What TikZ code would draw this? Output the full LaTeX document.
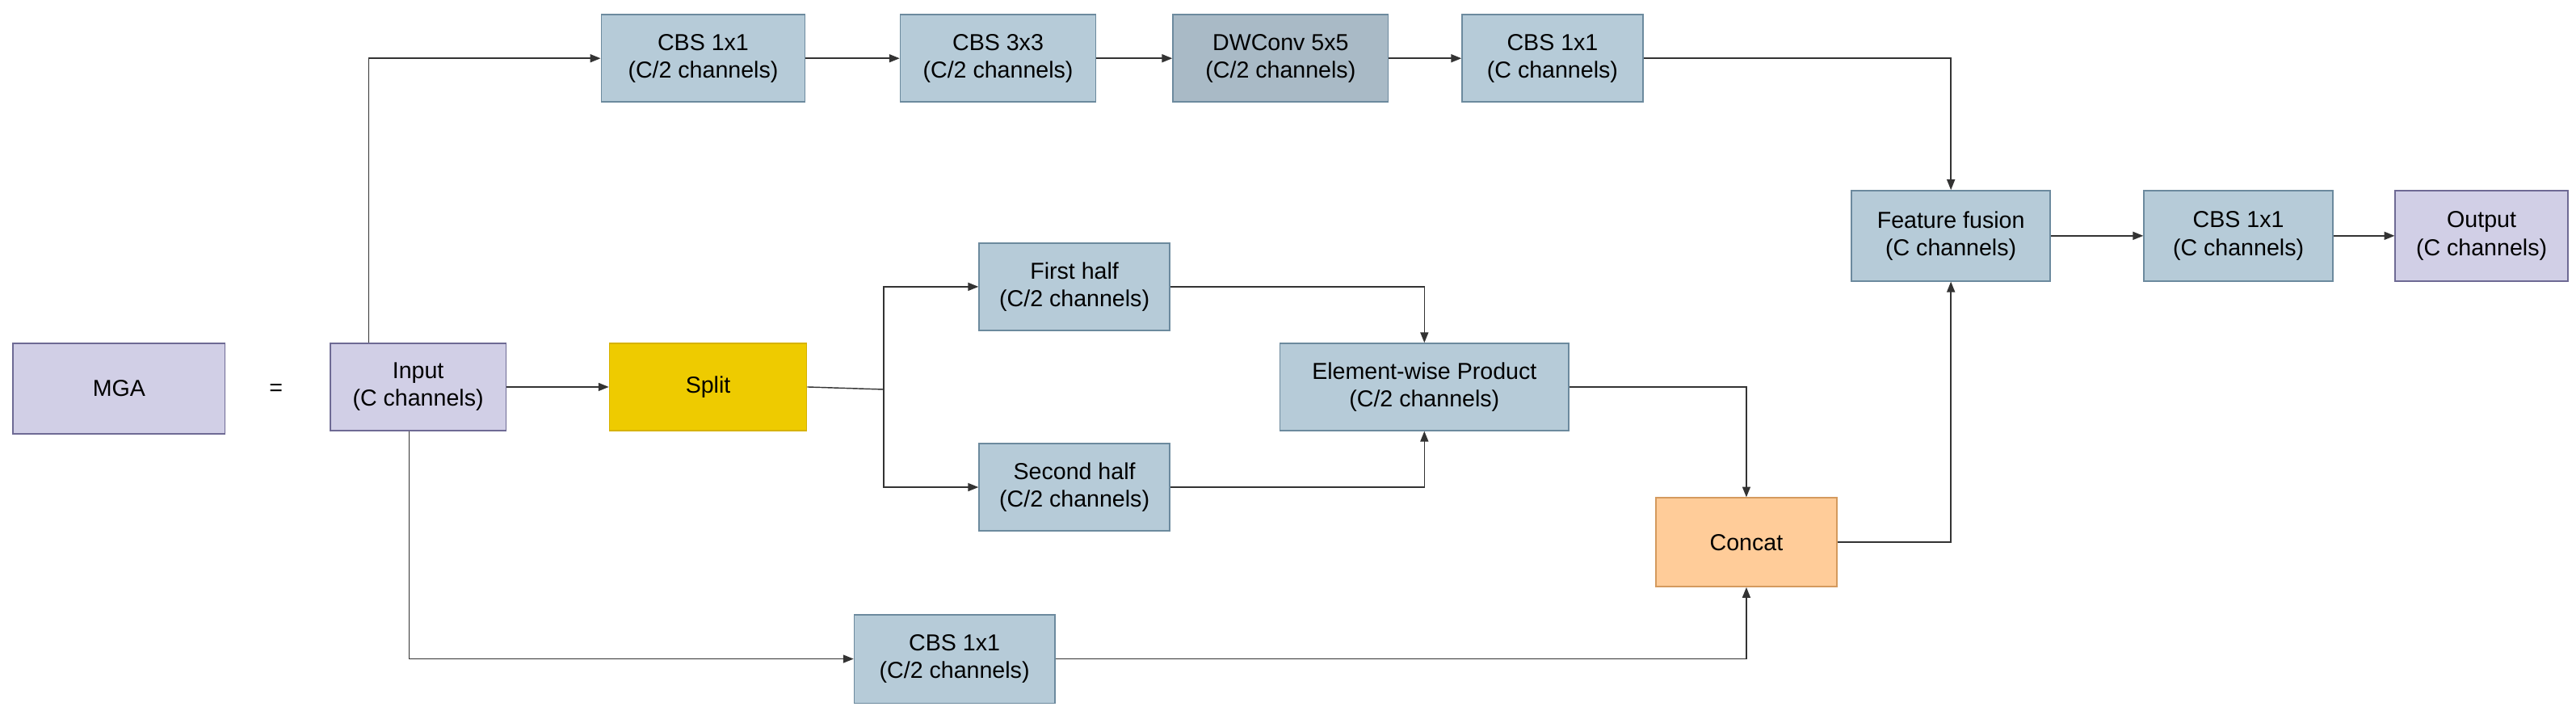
\documentclass[tikz,border=0pt]{standalone}
\usepackage{fontspec}
\setmainfont{Liberation Sans}
\usetikzlibrary{arrows.meta}
\definecolor{bluegrey}{HTML}{B6CBD8}
\definecolor{blueline}{HTML}{6C8A9E}
\definecolor{dwgrey}{HTML}{A9BAC6}
\definecolor{lav}{HTML}{D1CFE6}
\definecolor{lavline}{HTML}{6E6A94}
\definecolor{splitcol}{HTML}{EECB00}
\definecolor{splitline}{HTML}{D6B200}
\definecolor{concatcol}{HTML}{FFCC99}
\definecolor{concatline}{HTML}{D49A5E}
\begin{document}
\begin{tikzpicture}[x=0.05cm,y=-0.05cm,
                    font=\fontsize{20}{24}\selectfont,
                    box/.style={draw,line width=1.2pt,align=center,inner sep=0pt},
                    cbs/.style={box,fill=bluegrey,draw=blueline},
                    purple box/.style={box,fill=lav,draw=lavline},
                    arr/.style={-{Triangle[length=9pt,width=7pt]},line width=1pt,black!80}
                   ]
   \useasboundingbox (0,0) rectangle (1568,435);
   \node[purple box,minimum width=129\pgflinewidth] (mga) at (72.5,236.5) {};
   \node[purple box,minimum width=6.45cm,minimum height=2.75cm] (mga) at (72.5,236.5) {MGA};
   \node (eq) at (168,237) {=};
   \node[purple box,minimum width=5.35cm,minimum height=2.65cm] (in) at (254.5,235.5) {Input\\(C channels)};
   \node[box,fill=splitcol,draw=splitline,minimum width=6cm,minimum height=2.65cm] (split) at (431,235.5) {Split};
   \node[cbs,minimum width=5.8cm,minimum height=2.65cm] (first) at (654,174.5) {First half\\(C/2 channels)};
   \node[cbs,minimum width=5.8cm,minimum height=2.65cm] (second) at (654,296.5) {Second half\\(C/2 channels)};
   \node[cbs,minimum width=8.8cm,minimum height=2.65cm] (prod) at (867,235.5) {Element-wise Product\\(C/2 channels)};
   \node[cbs,minimum width=6.2cm,minimum height=2.65cm] (cbsa) at (428,35.5) {CBS 1x1\\(C/2 channels)};
   \node[cbs,minimum width=5.95cm,minimum height=2.65cm] (cbsb) at (607.5,35.5) {CBS 3x3\\(C/2 channels)};
   \node[cbs,fill=dwgrey,minimum width=6.55cm,minimum height=2.65cm] (dw) at (779.5,35.5) {DWConv 5x5\\(C/2 channels)};
   \node[cbs,minimum width=5.5cm,minimum height=2.65cm] (cbsc) at (945,35.5) {CBS 1x1\\(C channels)};
   \node[cbs,minimum width=6.05cm,minimum height=2.75cm] (fuse) at (1187.5,143.5) {Feature fusion\\(C channels)};
   \node[cbs,minimum width=5.75cm,minimum height=2.75cm] (cbsd) at (1362.5,143.5) {CBS 1x1\\(C channels)};
   \node[purple box,minimum width=5.25cm,minimum height=2.75cm] (out) at (1510.5,143.5) {Output\\(C channels)};
   \node[box,fill=concatcol,draw=concatline,minimum width=5.5cm,minimum height=2.7cm] (concat) at (1063,330) {Concat};
   \node[cbs,minimum width=6.1cm,minimum height=2.7cm] (cbse) at (581,401) {CBS 1x1\\(C/2 channels)};
   \coordinate (fork) at (538,237);
   \draw[arr] ([xshift=-1.5cm]in.north) |- (cbsa.west);
   \draw[arr] (cbsa) -- (cbsb);
   \draw[arr] (cbsb) -- (dw);
   \draw[arr] (dw) -- (cbsc);
   \draw[arr] (cbsc.east) -| (fuse.north);
   \draw[arr] (in) -- (split);
   \draw[line width=1pt,black!80] (split.east) -- (fork);
   \draw[arr] (fork) |- (first.west);
   \draw[arr] (fork) |- (second.west);
   \draw[arr] (first.east) -| (prod.north);
   \draw[arr] (second.east) -| (prod.south);
   \draw[arr] (prod.east) -| (concat.north);
   \draw[arr] ([xshift=-0.27cm]in.south) |- (cbse.west);
   \draw[arr] (cbse.east) -| (concat.south);
   \draw[arr] (concat.east) -| (fuse.south);
   \draw[arr] (fuse) -- (cbsd);
   \draw[arr] (cbsd) -- (out);
\end{tikzpicture}
\end{document}
